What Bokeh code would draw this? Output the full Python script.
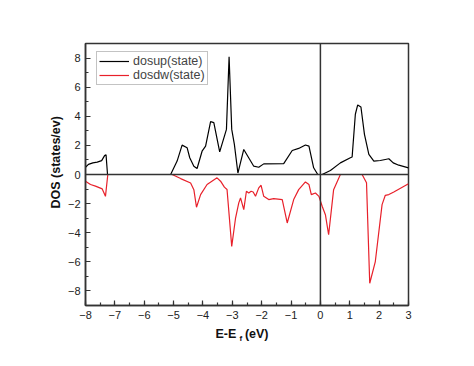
import math
from bokeh.plotting import figure
from bokeh.models import Range1d, FixedTicker, Span, Legend, LegendItem, LinearAxis, Title
from bokeh.embed import file_html
from bokeh.resources import INLINE

up_x = [-8, -7.9, -7.75, -7.6, -7.45, -7.35, -7.3, -7.25, -5.1, -4.88, -4.71, -4.54, -4.45, -4.31, -4.2, -4.03, -3.91, -3.74,
        -3.63, -3.43, -3.2, -3.11, -3.02, -2.93, -2.81, -2.61, -2.27, -2.1, -1.93, -1.25, -0.96, -0.74, -0.51, -0.39, -0.23, -0.09,
        0.06, 0.34, 0.68, 1.02, 1.08, 1.19, 1.27, 1.38, 1.5, 1.65, 1.82, 2.04, 2.21, 2.33, 2.48, 2.67, 3.0]
up_y = [0.5, 0.7, 0.8, 0.85, 0.95, 1.3, 1.35, 0.0, 0.0, 0.92, 2.02, 1.84, 1.15, 0.57, 0.41, 1.6, 1.95, 3.63,
        3.56, 1.55, 3.1, 8.09, 3.1, 2.07, 0.1, 1.72, 0.57, 0.5, 0.73, 0.75, 1.65, 1.79, 2.03, 1.95, 0.46, 0.0,
        0.0, 0.28, 0.8, 1.15, 1.2, 4.14, 4.78, 4.64, 2.76, 1.38, 0.92, 0.96, 1.03, 1.08, 0.8, 0.64, 0.46]

dw_x = [-8, -7.83, -7.66, -7.43, -7.32, -7.24, -5.05, -4.76, -4.42, -4.31, -4.22, -4.08, -3.86, -3.52, -3.4, -3.27, -3.18,
        -3.02, -2.89, -2.78, -2.72, -2.61, -2.52, -2.44, -2.36, -2.29, -2.21, -2.1, -2.02, -1.93, -1.76, -1.59, -1.3, -1.13,
        -0.91, -0.74, -0.51, -0.39, -0.31, -0.17, -0.05, 0.06, 0.17, 0.28, 0.45, 0.68, 1.42, 1.57, 1.68, 1.87, 2.1, 2.21,
        2.33, 2.5, 3.0]
dw_y = [-0.46, -0.69, -0.8, -0.99, -1.5, 0.0, 0.0, -0.28, -0.58, -1.04, -2.25, -1.38, -0.69, -0.23, -0.46, -0.87, -1.03,
        -4.94, -2.99, -1.95, -1.61, -2.41, -1.15, -1.27, -1.15, -1.2, -1.5, -0.92, -0.74, -1.5, -1.72, -1.66, -1.72, -3.33,
        -1.72, -1.04, -0.51, -0.69, -1.38, -1.27, -1.5, -2.18, -2.76, -4.14, -1.04, 0.0, 0.0, -0.57, -7.47, -5.98, -2.07, -1.43,
        -1.38, -1.2, -0.64]

x_ticks = [-8, -7, -6, -5, -4, -3, -2, -1, 0, 1, 2, 3]
y_ticks = [-8, -6, -4, -2, 0, 2, 4, 6, 8]
series_names = ["dosup(state)", "dosdw(state)"]
y_title = "DOS (states/ev)"
# x title "E-E_f (eV)" split into parts, anchored along the x axis
x_title_main = {-3.22: "E-E", -2.17: "(eV)"}
x_title_sub = {-2.71: "f"}

FONT = "Liberation Sans"
AX = "#333333"
TXT = "#111111"
W, H = 466, 358
FL, FT, FR, FB = 85, 43, 408, 305  # frame edges in window pixels

p = figure(width=W, height=H, output_backend="svg", toolbar_location=None,
           x_range=Range1d(-8, 3), y_range=Range1d(-9, 9),
           min_border_left=FL, min_border_right=W - FR, min_border_top=FT, min_border_bottom=H - FB)
p.xgrid.visible = False
p.ygrid.visible = False
p.outline_line_color = AX
p.outline_line_width = 1.5
p.background_fill_color = "white"
p.border_fill_color = "white"

p.xaxis.ticker = FixedTicker(ticks=x_ticks, minor_ticks=[t / 2 for t in range(-16, 7)])
p.yaxis.ticker = FixedTicker(ticks=y_ticks, minor_ticks=list(range(-9, 10)))
for ax in (p.xaxis[0], p.yaxis[0]):
    ax.axis_line_color = AX
    ax.axis_line_width = 1.5
    ax.major_tick_line_color = AX
    ax.minor_tick_line_color = AX
    ax.major_tick_line_width = 1.2
    ax.minor_tick_line_width = 1.2
    ax.major_tick_in = 5
    ax.major_tick_out = 0
    ax.minor_tick_in = 3
    ax.minor_tick_out = 0
    ax.major_label_text_font = FONT
    ax.major_label_text_font_size = "11px"
    ax.major_label_text_color = "#222222"
    ax.major_label_standoff = 5

# x-axis title built from label-only axes
ax_main = LinearAxis(ticker=FixedTicker(ticks=list(x_title_main.keys())),
                     major_label_overrides=x_title_main,
                     axis_line_color=None, major_tick_line_color=None, minor_tick_line_color=None,
                     major_label_text_font=FONT, major_label_text_font_size="12.5px",
                     major_label_text_font_style="bold", major_label_text_color=TXT,
                     major_label_standoff=-1)
ax_sub = LinearAxis(ticker=FixedTicker(ticks=list(x_title_sub.keys())),
                    major_label_overrides=x_title_sub,
                    axis_line_color=None, major_tick_line_color=None, minor_tick_line_color=None,
                    major_label_text_font=FONT, major_label_text_font_size="8px",
                    major_label_text_font_style="bold", major_label_text_color=TXT,
                    major_label_standoff=-16)
p.add_layout(ax_main, "below")
p.add_layout(ax_sub, "below")

p.add_layout(Title(text=y_title, align="left", offset=97, standoff=4, text_font=FONT,
                   text_font_size="12.5px", text_font_style="bold", text_color=TXT), "left")

p.add_layout(Span(location=0, dimension="width", line_color=AX, line_width=1.5))
p.add_layout(Span(location=0, dimension="height", line_color=AX, line_width=1.5))

r_up = p.line(up_x, up_y, line_color="black", line_width=1.2)
r_dw = p.line(dw_x, dw_y, line_color="#e8202a", line_width=1.2)

legend = Legend(items=[LegendItem(label=series_names[0], renderers=[r_up]),
                       LegendItem(label=series_names[1], renderers=[r_dw])],
                location=(11, 220), label_text_font=FONT, label_text_font_size="12.5px",
                border_line_color="#888888", border_line_width=1, padding=2, spacing=0,
                glyph_width=30, glyph_height=12, label_height=12, label_standoff=4, margin=0,
                background_fill_alpha=1)
p.add_layout(legend, "center")

open("out.html", "w").write(file_html(p, INLINE))
